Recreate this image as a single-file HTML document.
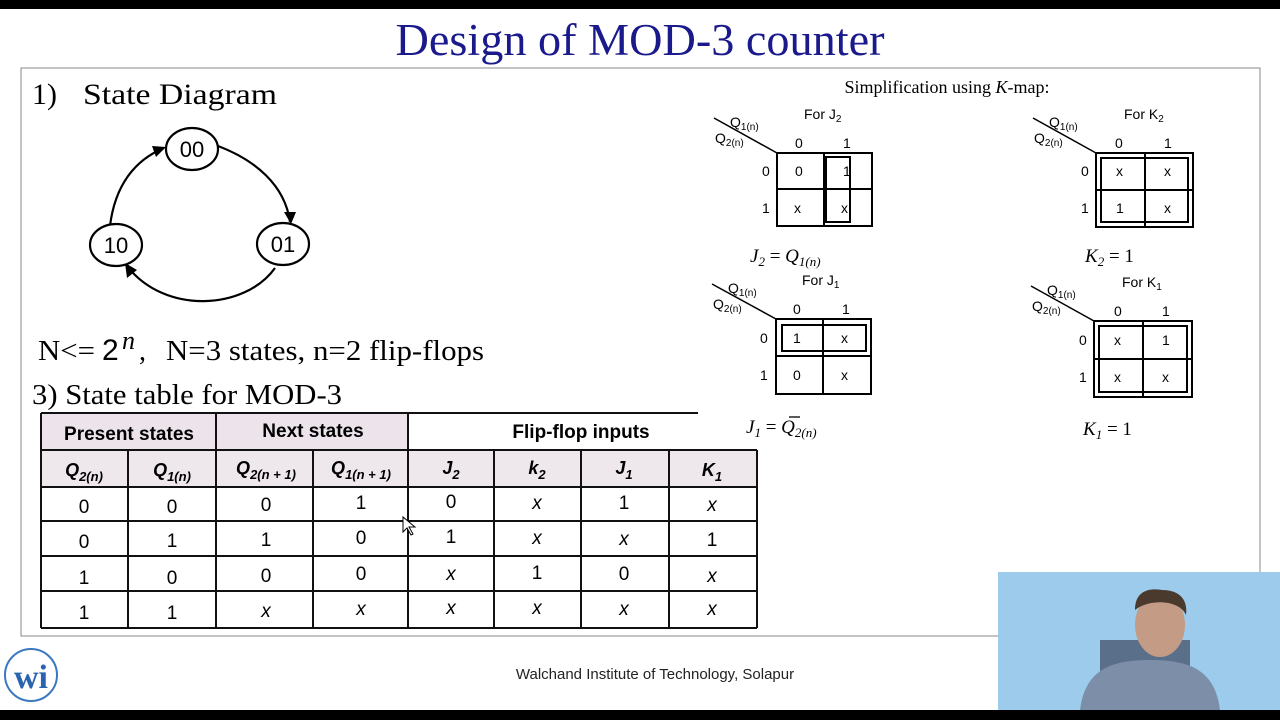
<!DOCTYPE html>
<html><head><style>
html,body{margin:0;padding:0;width:1280px;height:720px;overflow:hidden;background:#fff}
svg{display:block}
.s{font-family:"Liberation Serif",serif}
.a{font-family:"Liberation Sans",sans-serif}
</style></head><body>
<svg width="1280" height="720" viewBox="0 0 1280 720">
<rect x="0" y="0" width="1280" height="9" fill="#000"/>
<rect x="0" y="710" width="1280" height="10" fill="#000"/>
<text x="640" y="55" text-anchor="middle" class="s" font-size="45" fill="#1a1a8c" textLength="489" lengthAdjust="spacingAndGlyphs">Design of MOD-3 counter</text>
<rect x="21" y="68" width="1239" height="568" fill="none" stroke="#888" stroke-width="1"/>

<text x="32" y="104" class="s" font-size="30">1)</text>
<text x="83" y="104" class="s" font-size="30" textLength="194" lengthAdjust="spacingAndGlyphs">State Diagram</text>
<g fill="none" stroke="#000" stroke-width="2.2">
<path d="M110 226 C115 185 135 160 164 148"/>
<path d="M218 146 C255 160 285 185 290 222"/>
<path d="M275 268 C245 310 165 315 127 266"/>
</g>
<g fill="#000">
<polygon points="166,147 152,146 156,157"/>
<polygon points="291,224 284,212 296,212"/>
<polygon points="125,263 127,278 137,270"/>
</g>
<g fill="#fff" stroke="#000" stroke-width="2.2">
<ellipse cx="192" cy="149" rx="26" ry="21"/>
<ellipse cx="283" cy="244" rx="26" ry="21"/>
<ellipse cx="116" cy="245" rx="26" ry="21"/>
</g>
<g class="a" font-size="22" text-anchor="middle">
<text x="192" y="157">00</text><text x="283" y="252">01</text><text x="116" y="253">10</text>
</g>
<text x="38" y="360" class="s" font-size="28" textLength="57" lengthAdjust="spacingAndGlyphs">N&lt;=</text>
<text x="102" y="360" class="a" font-size="30">2</text>
<text x="122" y="349" class="s" font-size="26" font-style="italic">n</text>
<text x="139" y="360" class="s" font-size="28">,</text>
<text x="166" y="360" class="s" font-size="28" textLength="318" lengthAdjust="spacingAndGlyphs">N=3 states, n=2 flip-flops</text>
<text x="32" y="404" class="s" font-size="28" textLength="310" lengthAdjust="spacingAndGlyphs">3) State table for MOD-3</text>

<rect x="41" y="413" width="367" height="37" fill="#ece4ea"/>
<rect x="41" y="450" width="716" height="37" fill="#eee8ec"/>
<g stroke="#111" stroke-width="2" fill="none">
<path d="M41 413 H698 M41 450 H757 M41 487 H757 M41 521 H757 M41 556 H757 M41 591 H757 M41 628 H757"/>
<path d="M41 413 V628 M128 450 V628 M216 413 V628 M313 450 V628 M408 413 V628 M494 450 V628 M581 450 V628 M669 450 V628 M757 450 V628"/>
</g>
<g class="a" font-weight="bold" font-size="19" text-anchor="middle">
<text x="129" y="440">Present states</text><text x="313" y="437">Next states</text><text x="581" y="438">Flip-flop inputs</text>
</g>
<g class="a" font-weight="bold" font-style="italic" font-size="18" text-anchor="middle">
<text x="84" y="476">Q<tspan font-size="13" dy="5">2(n)</tspan></text>
<text x="172" y="476">Q<tspan font-size="13" dy="5">1(n)</tspan></text>
<text x="266" y="474">Q<tspan font-size="13" dy="5">2(n + 1)</tspan></text>
<text x="361" y="474">Q<tspan font-size="13" dy="5">1(n + 1)</tspan></text>
<text x="451" y="474">J<tspan font-size="13" dy="5">2</tspan></text>
<text x="537" y="474">k<tspan font-size="13" dy="5">2</tspan></text>
<text x="624" y="474">J<tspan font-size="13" dy="5">1</tspan></text>
<text x="712" y="476">K<tspan font-size="13" dy="5">1</tspan></text>
</g>
<g class="a" font-size="19" text-anchor="middle">
<text x="84" y="513">0</text><text x="172" y="513">0</text><text x="266" y="511">0</text><text x="361" y="509">1</text><text x="451" y="508">0</text><text x="537" y="509" font-style="italic">x</text><text x="624" y="509">1</text><text x="712" y="511" font-style="italic">x</text>
<text x="84" y="548">0</text><text x="172" y="547">1</text><text x="266" y="546">1</text><text x="361" y="544">0</text><text x="451" y="543">1</text><text x="537" y="544" font-style="italic">x</text><text x="624" y="545" font-style="italic">x</text><text x="712" y="546">1</text>
<text x="84" y="584">1</text><text x="172" y="584">0</text><text x="266" y="582">0</text><text x="361" y="580">0</text><text x="451" y="580" font-style="italic">x</text><text x="537" y="579">1</text><text x="624" y="580">0</text><text x="712" y="582" font-style="italic">x</text>
<text x="84" y="619">1</text><text x="172" y="619">1</text><text x="266" y="617" font-style="italic">x</text><text x="361" y="615" font-style="italic">x</text><text x="451" y="614" font-style="italic">x</text><text x="537" y="614" font-style="italic">x</text><text x="624" y="615" font-style="italic">x</text><text x="712" y="615" font-style="italic">x</text>
</g>
<path d="M403 517 l0 15 l4 -4 l4 7 l2 -1 l-4 -7 l6 0 z" fill="#fff" stroke="#000" stroke-width="1"/>

<text x="947" y="93" text-anchor="middle" class="s" font-size="18">Simplification using <tspan font-style="italic">K</tspan>-map:</text>
<g class="a" font-size="14">
<text x="804" y="119">For J<tspan font-size="10" dy="3">2</tspan></text>
<path d="M714 118 L777 153" stroke="#000" stroke-width="1.5"/>
<text x="730" y="127">Q<tspan font-size="10" dy="3">1(n)</tspan></text>
<text x="715" y="143">Q<tspan font-size="10" dy="3">2(n)</tspan></text>
<text x="795" y="148">0</text><text x="843" y="148">1</text>
<text x="762" y="176">0</text><text x="762" y="213">1</text>
<rect x="777" y="153" width="95" height="73" fill="none" stroke="#000" stroke-width="2"/>
<path d="M824 153 V226 M777 189 H872" stroke="#000" stroke-width="2"/>
<rect x="826" y="157" width="24" height="65" fill="none" stroke="#000" stroke-width="2"/>
<text x="795" y="176">0</text><text x="843" y="176">1</text><text x="794" y="213">x</text><text x="841" y="213">x</text>

<text x="1124" y="119">For K<tspan font-size="10" dy="3">2</tspan></text>
<path d="M1033 118 L1096 153" stroke="#000" stroke-width="1.5"/>
<text x="1049" y="127">Q<tspan font-size="10" dy="3">1(n)</tspan></text>
<text x="1034" y="143">Q<tspan font-size="10" dy="3">2(n)</tspan></text>
<text x="1115" y="148">0</text><text x="1164" y="148">1</text>
<text x="1081" y="176">0</text><text x="1081" y="213">1</text>
<rect x="1096" y="153" width="97" height="74" fill="none" stroke="#000" stroke-width="2"/>
<path d="M1145 153 V227 M1096 190 H1193" stroke="#000" stroke-width="2"/>
<rect x="1101" y="158" width="87" height="64" fill="none" stroke="#000" stroke-width="2"/>
<text x="1116" y="176">x</text><text x="1164" y="176">x</text><text x="1116" y="213">1</text><text x="1164" y="213">x</text>

<text x="802" y="285">For J<tspan font-size="10" dy="3">1</tspan></text>
<path d="M712 284 L776 319" stroke="#000" stroke-width="1.5"/>
<text x="728" y="293">Q<tspan font-size="10" dy="3">1(n)</tspan></text>
<text x="713" y="309">Q<tspan font-size="10" dy="3">2(n)</tspan></text>
<text x="793" y="314">0</text><text x="842" y="314">1</text>
<text x="760" y="343">0</text><text x="760" y="380">1</text>
<rect x="776" y="319" width="95" height="75" fill="none" stroke="#000" stroke-width="2"/>
<path d="M823 319 V394 M776 356 H871" stroke="#000" stroke-width="2"/>
<rect x="782" y="325" width="84" height="26" fill="none" stroke="#000" stroke-width="2"/>
<text x="793" y="343">1</text><text x="841" y="343">x</text><text x="793" y="380">0</text><text x="841" y="380">x</text>

<text x="1122" y="287">For K<tspan font-size="10" dy="3">1</tspan></text>
<path d="M1031 286 L1094 321" stroke="#000" stroke-width="1.5"/>
<text x="1047" y="295">Q<tspan font-size="10" dy="3">1(n)</tspan></text>
<text x="1032" y="311">Q<tspan font-size="10" dy="3">2(n)</tspan></text>
<text x="1114" y="316">0</text><text x="1162" y="316">1</text>
<text x="1079" y="345">0</text><text x="1079" y="382">1</text>
<rect x="1094" y="321" width="98" height="76" fill="none" stroke="#000" stroke-width="2"/>
<path d="M1143 321 V397 M1094 359 H1192" stroke="#000" stroke-width="2"/>
<rect x="1099" y="326" width="88" height="66" fill="none" stroke="#000" stroke-width="2"/>
<text x="1114" y="345">x</text><text x="1162" y="345">1</text><text x="1114" y="382">x</text><text x="1162" y="382">x</text>
</g>
<g class="s" font-size="19" font-style="italic">
<text x="750" y="262">J<tspan font-size="13" dy="4">2</tspan><tspan dy="-4" font-style="normal"> = </tspan>Q<tspan font-size="13" dy="4">1(n)</tspan></text>
<text x="1085" y="262">K<tspan font-size="13" dy="4">2</tspan><tspan dy="-4" font-style="normal"> = 1</tspan></text>
<text x="746" y="433">J<tspan font-size="13" dy="4">1</tspan><tspan dy="-4" font-style="normal"> = </tspan>Q<tspan font-size="13" dy="4">2(n)</tspan></text>
<text x="1083" y="435">K<tspan font-size="13" dy="4">1</tspan><tspan dy="-4" font-style="normal"> = 1</tspan></text>
</g>
<path d="M789 417 H800" stroke="#000" stroke-width="1.3"/>

<text x="655" y="679" text-anchor="middle" class="a" font-size="15" fill="#222">Walchand Institute of Technology, Solapur</text>
<g>
<circle cx="31" cy="675" r="26" fill="none" stroke="#3a78c0" stroke-width="2"/>
<text x="31" y="688" text-anchor="middle" class="s" font-size="34" font-weight="bold" fill="#2a63b0">wi</text>
</g>

<rect x="998" y="572" width="282" height="138" fill="#9ccbec"/>
<rect x="1100" y="640" width="90" height="70" fill="#5a6f8a"/>
<path d="M1080 710 C1085 670 1110 660 1150 660 C1190 660 1215 670 1220 710 Z" fill="#7d8fa8"/>
<ellipse cx="1160" cy="625" rx="25" ry="32" fill="#c49b85"/>
<path d="M1135 610 C1135 590 1150 588 1162 590 C1180 590 1188 600 1186 615 C1180 600 1150 598 1135 610 Z" fill="#4a3a2e"/>
</svg>
</body></html>
